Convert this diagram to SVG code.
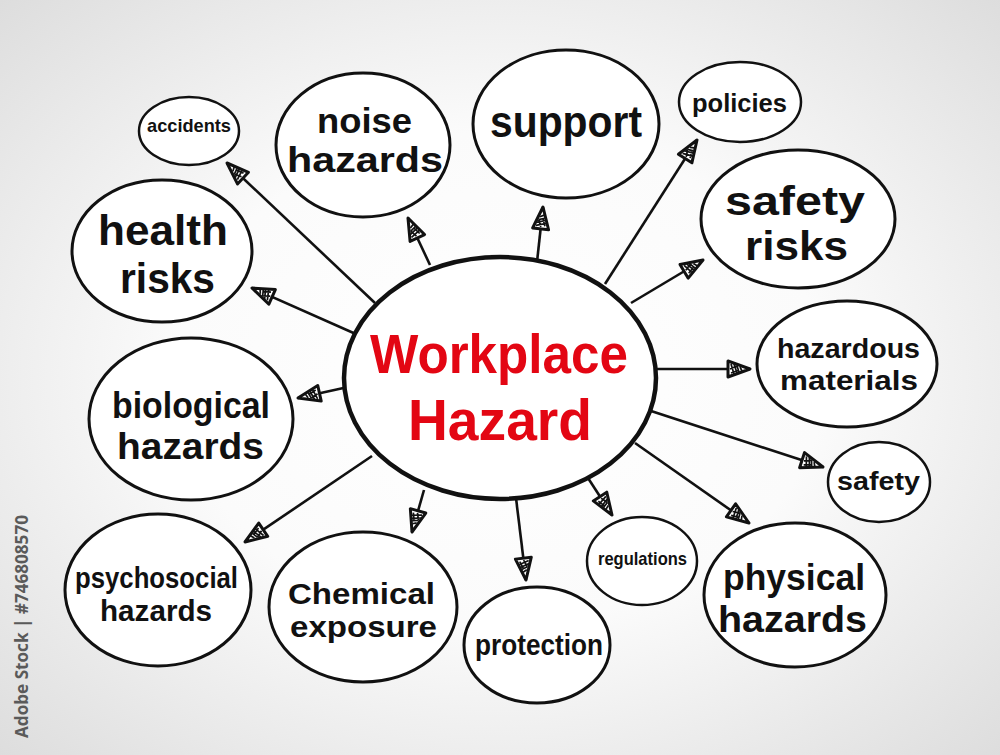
<svg xmlns="http://www.w3.org/2000/svg" width="1000" height="755" viewBox="0 0 1000 755">
<defs>
<radialGradient id="bg" cx="50%" cy="50%" r="72%">
<stop offset="0" stop-color="#ffffff"/>
<stop offset="0.45" stop-color="#fbfbfb"/>
<stop offset="1" stop-color="#dcdcdc"/>
</radialGradient>
<marker id="ah" markerUnits="userSpaceOnUse" markerWidth="28" markerHeight="22" viewBox="0 0 28 22" refX="25" refY="11" orient="auto">
<path d="M3,3 L25,11 L3,19 Z" fill="#ffffff" stroke="#111" stroke-width="3" stroke-linejoin="round"/>
<path d="M6,6 L9,16 M9,6 L12,15 M12,8 L14,14 M15,9 L17,13 M5,11 L12,8 M6,15 L14,12" stroke="#111" stroke-width="1.7" fill="none"/>
</marker>
<style>
.n{fill:#ffffff;stroke:#111;stroke-width:3}
.s{fill:#ffffff;stroke:#111;stroke-width:2.5}
.c{fill:#ffffff;stroke:#111;stroke-width:4.5}
.t{font-family:"Liberation Sans","Open Sans",sans-serif;font-weight:700;fill:#111}
.r{font-family:"Liberation Sans","Open Sans",sans-serif;font-weight:700;fill:#e30613}
.w{font-family:"Open Sans","Liberation Sans",sans-serif;font-weight:700;fill:#5a5a5a}
#links line{stroke:#111;stroke-width:2.6;marker-end:url(#ah)}
</style>
</defs>
<rect x="0" y="0" width="1000" height="755" fill="url(#bg)"/>
<text class="w" transform="translate(28,738) rotate(-90)" font-size="17" textLength="223" lengthAdjust="spacingAndGlyphs">Adobe Stock | #746808570</text>
<g id="links">
<line x1="375" y1="303" x2="227" y2="163"/>
<line x1="430" y1="265" x2="408" y2="218"/>
<line x1="537" y1="262" x2="543" y2="207"/>
<line x1="605" y1="284" x2="697" y2="140"/>
<line x1="631" y1="303" x2="703" y2="260"/>
<line x1="652" y1="369" x2="750" y2="369"/>
<line x1="648" y1="410" x2="823" y2="467"/>
<line x1="635" y1="443" x2="749" y2="523"/>
<line x1="588" y1="478" x2="612" y2="515"/>
<line x1="516" y1="498" x2="526" y2="580"/>
<line x1="424" y1="490" x2="412" y2="532"/>
<line x1="372" y1="456" x2="245" y2="542"/>
<line x1="348" y1="387" x2="298" y2="398"/>
<line x1="358" y1="335" x2="252" y2="288"/>
</g>
<g id="center">
<ellipse class="c" cx="500" cy="378" rx="156" ry="121"/>
<text class="r" x="370" y="373" font-size="56" textLength="258" lengthAdjust="spacingAndGlyphs">Workplace</text>
<text class="r" x="408" y="440" font-size="58" textLength="184" lengthAdjust="spacingAndGlyphs">Hazard</text>
</g>
<g id="accidents">
<ellipse class="s" cx="189" cy="131" rx="50" ry="34"/>
<text class="t" x="147" y="132" font-size="19" textLength="84" lengthAdjust="spacingAndGlyphs">accidents</text>
</g>
<g id="noise">
<ellipse class="n" cx="363" cy="145" rx="87" ry="72"/>
<text class="t" x="317" y="133" font-size="35" textLength="95" lengthAdjust="spacingAndGlyphs">noise</text>
<text class="t" x="287" y="172" font-size="35" textLength="156" lengthAdjust="spacingAndGlyphs">hazards</text>
</g>
<g id="support">
<ellipse class="n" cx="566" cy="124" rx="93" ry="74"/>
<text class="t" x="490" y="137" font-size="44" textLength="152" lengthAdjust="spacingAndGlyphs">support</text>
</g>
<g id="policies">
<ellipse class="s" cx="740" cy="102" rx="61" ry="40"/>
<text class="t" x="692" y="112" font-size="26" textLength="95" lengthAdjust="spacingAndGlyphs">policies</text>
</g>
<g id="safety-risks">
<ellipse class="n" cx="798" cy="219" rx="97" ry="69"/>
<text class="t" x="725" y="215" font-size="40" textLength="140" lengthAdjust="spacingAndGlyphs">safety</text>
<text class="t" x="745" y="260" font-size="40" textLength="103" lengthAdjust="spacingAndGlyphs">risks</text>
</g>
<g id="hazardous-materials">
<ellipse class="n" cx="847" cy="364" rx="90" ry="63"/>
<text class="t" x="777" y="358" font-size="28" textLength="143" lengthAdjust="spacingAndGlyphs">hazardous</text>
<text class="t" x="780" y="390" font-size="28" textLength="138" lengthAdjust="spacingAndGlyphs">materials</text>
</g>
<g id="safety">
<ellipse class="s" cx="879" cy="482" rx="51" ry="40"/>
<text class="t" x="837" y="490" font-size="26" textLength="83" lengthAdjust="spacingAndGlyphs">safety</text>
</g>
<g id="physical">
<ellipse class="n" cx="795" cy="595" rx="91" ry="72"/>
<text class="t" x="723" y="590" font-size="37" textLength="142" lengthAdjust="spacingAndGlyphs">physical</text>
<text class="t" x="718" y="632" font-size="37" textLength="149" lengthAdjust="spacingAndGlyphs">hazards</text>
</g>
<g id="regulations">
<ellipse class="s" cx="642" cy="561" rx="55" ry="44"/>
<text class="t" x="598" y="565" font-size="19" textLength="89" lengthAdjust="spacingAndGlyphs">regulations</text>
</g>
<g id="protection">
<ellipse class="n" cx="537" cy="645" rx="73" ry="58"/>
<text class="t" x="475" y="655" font-size="29" textLength="128" lengthAdjust="spacingAndGlyphs">protection</text>
</g>
<g id="chemical">
<ellipse class="n" cx="363" cy="607" rx="94" ry="75"/>
<text class="t" x="288" y="604" font-size="29" textLength="147" lengthAdjust="spacingAndGlyphs">Chemical</text>
<text class="t" x="290" y="637" font-size="29" textLength="147" lengthAdjust="spacingAndGlyphs">exposure</text>
</g>
<g id="psychosocial">
<ellipse class="n" cx="158" cy="590" rx="93" ry="76"/>
<text class="t" x="75" y="588" font-size="29" textLength="163" lengthAdjust="spacingAndGlyphs">psychosocial</text>
<text class="t" x="100" y="621" font-size="29" textLength="112" lengthAdjust="spacingAndGlyphs">hazards</text>
</g>
<g id="biological">
<ellipse class="n" cx="191" cy="419" rx="102" ry="81"/>
<text class="t" x="112" y="418" font-size="36" textLength="158" lengthAdjust="spacingAndGlyphs">biological</text>
<text class="t" x="117" y="459" font-size="36" textLength="147" lengthAdjust="spacingAndGlyphs">hazards</text>
</g>
<g id="health">
<ellipse class="n" cx="162" cy="251" rx="90" ry="71"/>
<text class="t" x="98" y="245" font-size="43" textLength="130" lengthAdjust="spacingAndGlyphs">health</text>
<text class="t" x="120" y="293" font-size="43" textLength="95" lengthAdjust="spacingAndGlyphs">risks</text>
</g>
</svg>
